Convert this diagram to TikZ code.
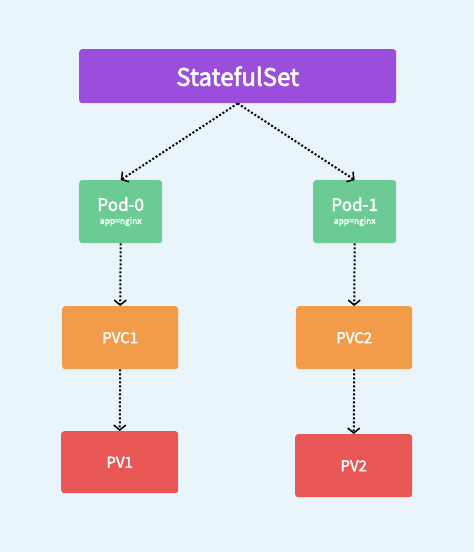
\documentclass[tikz,border=0pt]{standalone}
\usepackage{fontspec}
\setmainfont{Noto Sans CJK SC}[BoldFont={Noto Sans CJK SC},BoldFeatures={FakeBold=2.4}]
\usetikzlibrary{arrows.meta}
\definecolor{bg}{HTML}{EAF4FB}
\definecolor{cpurple}{HTML}{9A4EDB}
\definecolor{cgreen}{HTML}{6CCB94}
\definecolor{corange}{HTML}{F29B48}
\definecolor{cred}{HTML}{E85656}
\begin{document}
\begin{tikzpicture}[x=1pt,y=-1pt,
  box/.style={rounded corners=3pt,text=white,font=\bfseries,inner sep=0pt,anchor=north west},
  conn/.style={line width=2pt,dash pattern=on 2pt off 2pt,-{Straight Barb[length=5pt,width=12pt,line width=1.5pt]}}]
\fill[bg] (0,0) rectangle (474,552);
\useasboundingbox (0,0) rectangle (474,552);
\node[box,fill=cpurple,minimum width=317pt,minimum height=54pt,font=\bfseries\fontsize{24}{28}\selectfont] (ss) at (79,49) {StatefulSet};
\node[box,fill=cgreen,minimum width=83pt,minimum height=63pt,align=center] (p0) at (79,180) {{\fontsize{17}{19}\selectfont Pod-0}\\[1pt]{\fontsize{8.5}{10}\selectfont app=nginx}};
\node[box,fill=cgreen,minimum width=83pt,minimum height=63pt,align=center] (p1) at (313,180) {{\fontsize{17}{19}\selectfont Pod-1}\\[1pt]{\fontsize{8.5}{10}\selectfont app=nginx}};
\node[box,fill=corange,minimum width=116pt,minimum height=63pt,font=\bfseries\fontsize{15}{17}\selectfont] (c1) at (62,306) {PVC1};
\node[box,fill=corange,minimum width=116pt,minimum height=63pt,font=\bfseries\fontsize{15}{17}\selectfont] (c2) at (296,306) {PVC2};
\node[box,fill=cred,minimum width=117pt,minimum height=62pt,font=\bfseries\fontsize{15}{17}\selectfont] (v1) at (61,431) {PV1};
\node[box,fill=cred,minimum width=117pt,minimum height=63pt,font=\bfseries\fontsize{15}{17}\selectfont] (v2) at (295,434) {PV2};
\draw[conn] (ss.south) -- (p0.north);
\draw[conn] (ss.south) -- (p1.north);
\draw[conn] (p0.south) -- (c1.north);
\draw[conn] (p1.south) -- (c2.north);
\draw[conn] (c1.south) -- (v1.north);
\draw[conn] (c2.south) -- (v2.north);
\end{tikzpicture}
\end{document}
